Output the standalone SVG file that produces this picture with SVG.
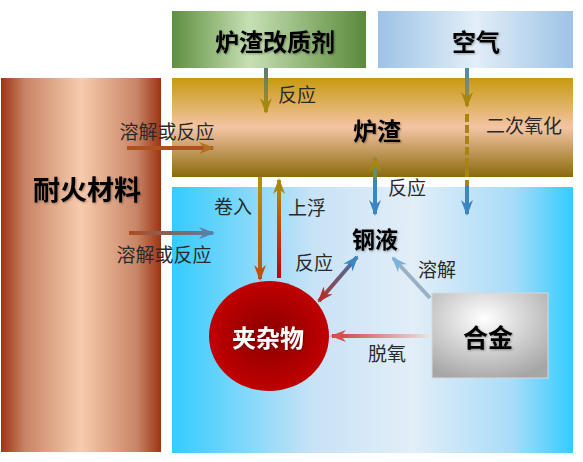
<svg xmlns="http://www.w3.org/2000/svg" width="583" height="462" viewBox="0 0 583 462">
<style>
.t{font-family:"Noto Sans CJK SC",sans-serif;font-size:19px;fill:#2a2a2a;text-anchor:middle;dominant-baseline:central}
.b{font-family:"Noto Sans CJK SC",sans-serif;font-weight:bold;fill:#000;text-anchor:middle;dominant-baseline:central;filter:url(#sh)}
.ln{fill:none;stroke-width:4}
</style>
<defs>
<filter id="sh" x="-10%" y="-20%" width="120%" height="140%">
<feDropShadow dx="1" dy="1" stdDeviation="1.2" flood-color="#000" flood-opacity="0.35"/>
</filter>
<linearGradient id="gRef" x1="0" x2="1" y1="0" y2="0">
<stop offset="0" stop-color="#9c3414"/><stop offset="0.15" stop-color="#c88466"/><stop offset="0.5" stop-color="#f8cbad"/><stop offset="0.85" stop-color="#c88466"/><stop offset="1" stop-color="#9c3414"/>
</linearGradient>
<linearGradient id="gSlag" x1="0" x2="0" y1="0" y2="1">
<stop offset="0" stop-color="#c89a10"/><stop offset="0.5" stop-color="#f4c4a4"/><stop offset="1" stop-color="#8a6a0c"/>
</linearGradient>
<linearGradient id="gSteel" x1="0" x2="1" y1="0" y2="0">
<stop offset="0" stop-color="#33ccff"/><stop offset="0.35" stop-color="#c8e2f6"/><stop offset="0.6" stop-color="#e2eef8"/><stop offset="0.85" stop-color="#a8dcf8"/><stop offset="1" stop-color="#33ccff"/>
</linearGradient>
<linearGradient id="gGreen" x1="0" x2="1" y1="0" y2="0">
<stop offset="0" stop-color="#5f8f3f"/><stop offset="0.4" stop-color="#c6e0b4"/><stop offset="1" stop-color="#5a8a3a"/>
</linearGradient>
<linearGradient id="gAir" x1="0" x2="1" y1="0" y2="0">
<stop offset="0" stop-color="#9dc3e6"/><stop offset="0.5" stop-color="#e2eef8"/><stop offset="1" stop-color="#9dc3e6"/>
</linearGradient>
<radialGradient id="gInc" cx="0.5" cy="0.5" r="0.5">
<stop offset="0" stop-color="#8a0000"/><stop offset="1" stop-color="#c00000"/>
</radialGradient>
<radialGradient id="gAlloy" cx="0.45" cy="0.3" r="0.75">
<stop offset="0" stop-color="#ffffff"/><stop offset="1" stop-color="#a6a6a6"/>
</radialGradient>
<linearGradient id="aGreen" gradientUnits="userSpaceOnUse" x1="0" y1="68" x2="0" y2="110">
<stop offset="0" stop-color="#5a7a7a"/><stop offset="1" stop-color="#b08a10"/>
</linearGradient>
<linearGradient id="aAir" gradientUnits="userSpaceOnUse" x1="0" y1="68" x2="0" y2="110">
<stop offset="0" stop-color="#4a8ab8"/><stop offset="1" stop-color="#b08a10"/>
</linearGradient>
<linearGradient id="aRef2" gradientUnits="userSpaceOnUse" x1="129" y1="0" x2="213" y2="0">
<stop offset="0" stop-color="#b04a20"/><stop offset="1" stop-color="#5a7fa0"/>
</linearGradient>
<linearGradient id="aIn" gradientUnits="userSpaceOnUse" x1="0" y1="177" x2="0" y2="280">
<stop offset="0" stop-color="#b8900a"/><stop offset="1" stop-color="#c05010"/>
</linearGradient>
<linearGradient id="aUp" gradientUnits="userSpaceOnUse" x1="0" y1="278" x2="0" y2="180">
<stop offset="0" stop-color="#c00000"/><stop offset="1" stop-color="#b8900a"/>
</linearGradient>
<linearGradient id="aReact" gradientUnits="userSpaceOnUse" x1="318" y1="302" x2="358" y2="256">
<stop offset="0" stop-color="#b03030"/><stop offset="1" stop-color="#3a7ab0"/>
</linearGradient>
<linearGradient id="aDeox" gradientUnits="userSpaceOnUse" x1="432" y1="0" x2="335" y2="0">
<stop offset="0" stop-color="#e8e8e8"/><stop offset="1" stop-color="#d04040"/>
</linearGradient>
<marker id="hGold" viewBox="0 0 16 12" refX="14" refY="6" markerWidth="16" markerHeight="12" markerUnits="userSpaceOnUse" orient="auto-start-reverse">
<path d="M0,0 L16,6 L0,12 L5,6 z" fill="#a8860e"/></marker>
<marker id="hBlue" viewBox="0 0 16 12" refX="14" refY="6" markerWidth="16" markerHeight="12" markerUnits="userSpaceOnUse" orient="auto-start-reverse">
<path d="M0,0 L16,6 L0,12 L5,6 z" fill="#3a86c0"/></marker>
<marker id="hLBlue" viewBox="0 0 16 12" refX="14" refY="6" markerWidth="16" markerHeight="12" markerUnits="userSpaceOnUse" orient="auto-start-reverse">
<path d="M0,0 L16,6 L0,12 L5,6 z" fill="#7ab4dc"/></marker>
<marker id="hOrange" viewBox="0 0 16 12" refX="14" refY="6" markerWidth="16" markerHeight="12" markerUnits="userSpaceOnUse" orient="auto-start-reverse">
<path d="M0,0 L16,6 L0,12 L5,6 z" fill="#c0500e"/></marker>
<marker id="hBrown" viewBox="0 0 16 12" refX="14" refY="6" markerWidth="16" markerHeight="12" markerUnits="userSpaceOnUse" orient="auto-start-reverse">
<path d="M0,0 L16,6 L0,12 L5,6 z" fill="#b07020"/></marker>
<marker id="hSlate" viewBox="0 0 16 12" refX="14" refY="6" markerWidth="16" markerHeight="12" markerUnits="userSpaceOnUse" orient="auto-start-reverse">
<path d="M0,0 L16,6 L0,12 L5,6 z" fill="#5a80a8"/></marker>
<marker id="hRed" viewBox="0 0 16 12" refX="14" refY="6" markerWidth="16" markerHeight="12" markerUnits="userSpaceOnUse" orient="auto-start-reverse">
<path d="M0,0 L16,6 L0,12 L5,6 z" fill="#b03030"/></marker>
<marker id="hPink" viewBox="0 0 16 12" refX="14" refY="6" markerWidth="16" markerHeight="12" markerUnits="userSpaceOnUse" orient="auto-start-reverse">
<path d="M0,0 L16,6 L0,12 L5,6 z" fill="#d85050"/></marker>
</defs>
<rect width="583" height="462" fill="#ffffff"/>
<g id="steel"><rect x="172" y="187" width="401" height="266" fill="url(#gSteel)"/></g>
<g id="slag"><rect x="172" y="78" width="401" height="99" fill="url(#gSlag)"/></g>
<g id="refractory"><rect x="1" y="78" width="160" height="374" fill="url(#gRef)"/></g>
<g id="modifier"><rect x="172" y="11" width="194" height="57" fill="url(#gGreen)"/></g>
<g id="air"><rect x="378" y="11" width="195" height="57" fill="url(#gAir)"/></g>
<g id="connectors">
<line class="ln" x1="266" y1="68" x2="266" y2="112" stroke="url(#aGreen)" marker-end="url(#hGold)"/>
<line class="ln" x1="467" y1="68" x2="467" y2="106" stroke="url(#aAir)" marker-end="url(#hGold)"/>
<line x1="467" y1="114" x2="467" y2="200" stroke="#a88410" stroke-width="4" stroke-dasharray="8,3"/>
<line class="ln" x1="467" y1="186" x2="467" y2="214" stroke="#3a86c0" marker-end="url(#hBlue)"/>
<line class="ln" x1="127" y1="148" x2="213" y2="148" stroke="#b0501e" marker-end="url(#hBrown)"/>
<line class="ln" x1="129" y1="233" x2="213" y2="233" stroke="url(#aRef2)" marker-end="url(#hSlate)"/>
<line class="ln" x1="260" y1="177" x2="260" y2="279" stroke="url(#aIn)" marker-end="url(#hOrange)"/>
<line class="ln" x1="279" y1="278" x2="279" y2="180" stroke="url(#aUp)" marker-end="url(#hGold)"/>
<line class="ln" x1="375" y1="158" x2="375" y2="180" stroke="#6a8a6a" marker-start="url(#hGold)"/>
<line class="ln" x1="375" y1="180" x2="375" y2="214" stroke="#3a86c0" marker-end="url(#hBlue)"/>
<line class="ln" x1="319" y1="301" x2="357" y2="257" stroke="url(#aReact)" marker-start="url(#hRed)" marker-end="url(#hBlue)"/>
<line class="ln" x1="430" y1="298" x2="393" y2="258" stroke="#9ab0c4" marker-end="url(#hLBlue)"/>
<line class="ln" x1="432" y1="336" x2="332" y2="336" stroke="url(#aDeox)" marker-end="url(#hPink)"/>
</g>
<g id="inclusion"><ellipse cx="269" cy="336" rx="60" ry="55" fill="url(#gInc)"/>
<text class="b" x="268" y="336" font-size="24" style="fill:#fff">夹杂物</text></g>
<g id="alloy"><rect x="432" y="293" width="116" height="85" fill="url(#gAlloy)" stroke="#d8d8d8" stroke-width="1"/>
<text class="b" x="488" y="336" font-size="25">合金</text></g>
<g id="labels">
<text class="b" x="275" y="40" font-size="24">炉渣改质剂</text>
<text class="b" x="476" y="40" font-size="24">空气</text>
<text class="b" x="377" y="129" font-size="24">炉渣</text>
<text class="b" x="87" y="188" font-size="27">耐火材料</text>
<text class="b" x="375" y="238" font-size="23">钢液</text>
<text class="t" x="297" y="93">反应</text>
<text class="t" x="167" y="130">溶解或反应</text>
<text class="t" x="524" y="124">二次氧化</text>
<text class="t" x="407" y="186">反应</text>
<text class="t" x="233" y="205">卷入</text>
<text class="t" x="307" y="206">上浮</text>
<text class="t" x="164" y="253">溶解或反应</text>
<text class="t" x="314" y="261">反应</text>
<text class="t" x="437" y="268">溶解</text>
<text class="t" x="387" y="352">脱氧</text>
</g>
</svg>
